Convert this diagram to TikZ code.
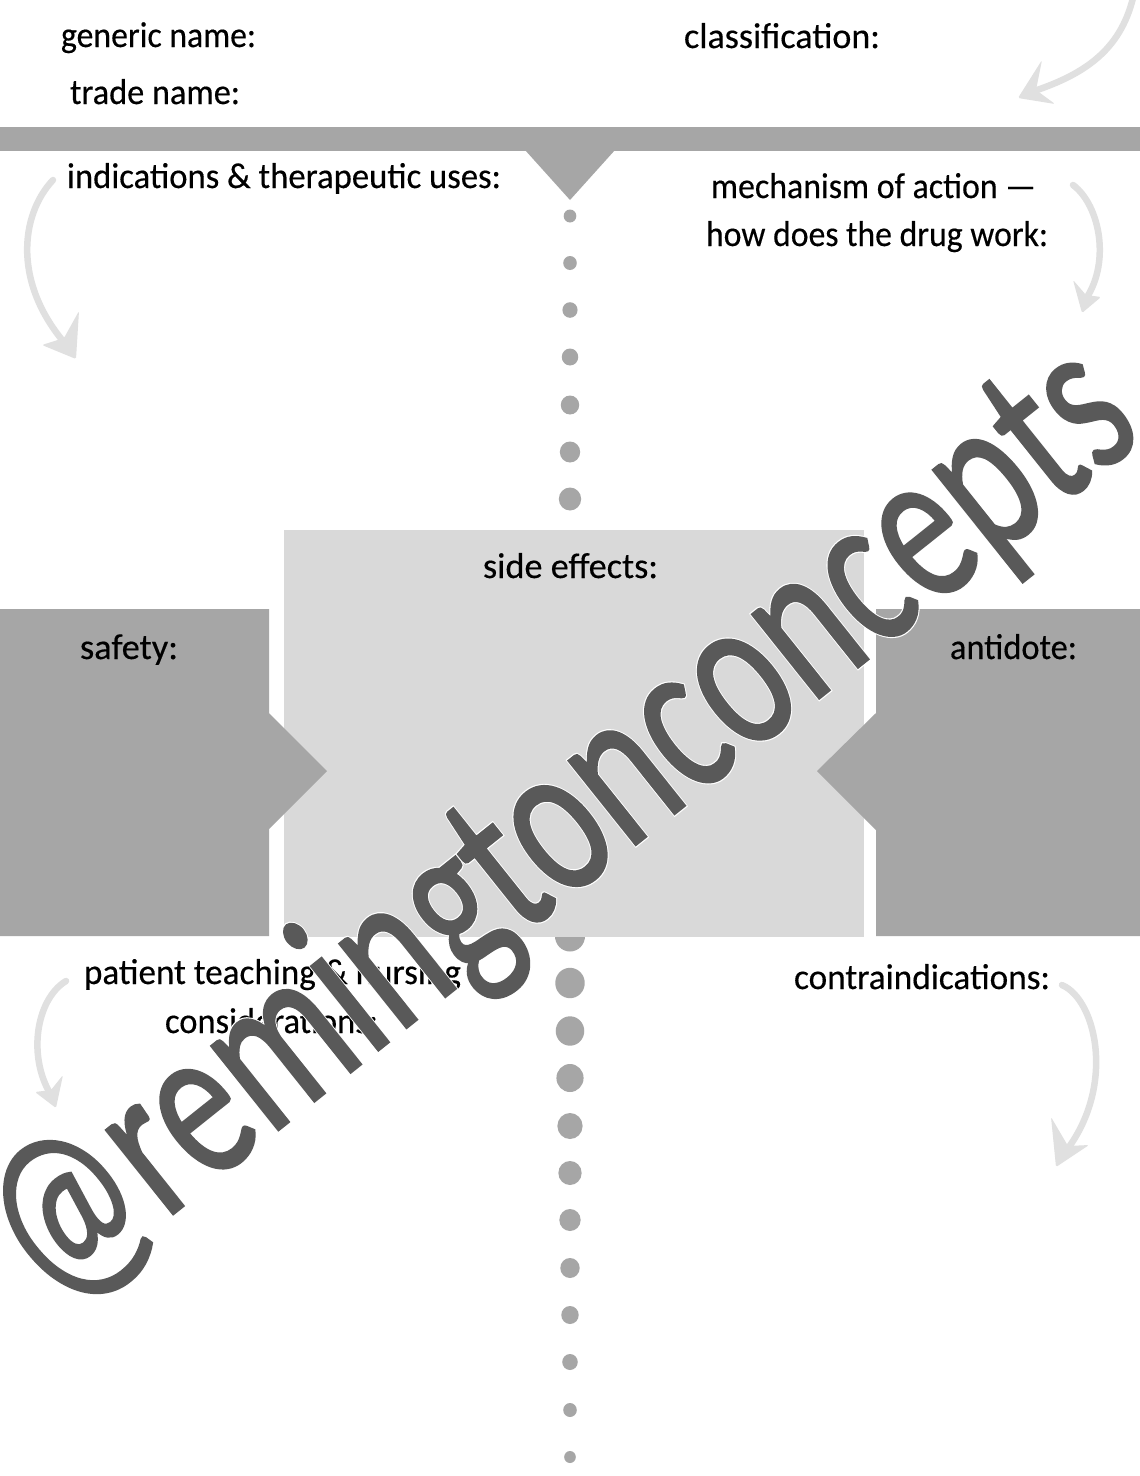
\documentclass[tikz,border=0pt]{standalone}
\usepackage{graphicx}
\usepackage{fontspec}
\setmainfont[FakeBold=0.35]{Carlito}
\newfontfamily\wmfont[FakeBold=1.1]{Carlito}
\newfontfamily\wmhalo[FakeBold=2.2]{Carlito}
\definecolor{bargrey}{HTML}{A6A6A6}
\definecolor{boxgrey}{HTML}{D9D9D9}
\definecolor{arrowgrey}{HTML}{E0E0E0}
\definecolor{markgrey}{HTML}{595959}
\newcommand{\lbl}[4]{\node[lbltext] (#1) at (#2) {\resizebox{#3pt}{\height}{#4}};}
\newcommand{\sketcharrow}[8]{%
  \draw[arrowgrey,line width=6.5pt,line cap=round] #1 .. controls #2 and #3 .. #4;
  \fill[arrowgrey,rounded corners=1.5pt] #5 -- #6 -- #7 -- #8 -- cycle;}
\tikzset{
  lbltext/.style={anchor=base west,inner sep=0pt,outer sep=0pt,text=black,font=\fontsize{36}{40}\selectfont},
  panel/.style={fill=bargrey,draw=none},
  dotmark/.style={fill=bargrey,draw=none},
}
\begin{document}
\begin{tikzpicture}[x=1pt,y=-1pt]
\useasboundingbox (0,0) rectangle (1140,1476);
\fill[white] (0,0) rectangle (1140,1476);
\begin{scope}
\clip (0,0) rectangle (1140,1476);
% top bar and pointer
\fill[panel] (0,127) rectangle (1140,151);
\fill[panel] (525,150) -- (615,150) -- (570,200) -- cycle;
% dots
\foreach \yy/\rr in {216/6.5,263/7,310/7.8,357/8.5,405/9.5,452/10.5,499/11.5,
  936/15.5,983/15.2,1031/14.7,1078/14,1126/13,1173/12,1220/11,1268/10,1315/9,1362/8,1410/7,1457/6}
  {\fill[dotmark] (570,\yy) ellipse ({\rr*0.97} and \rr);}
% side effects box
\fill[boxgrey] (284,530) rectangle (864,937);
% side panels
\fill[panel] (0,609) -- (269,609) -- (269,713) -- (327,771) -- (269,829) -- (269,936) -- (0,936) -- cycle;
\fill[panel] (1140,609) -- (876,609) -- (876,713) -- (817,771) -- (876,830) -- (876,936) -- (1140,936) -- cycle;
% arrows
\sketcharrow{(1133,-2)}{(1120,50)}{(1085,75)}{(1028,93)}{(1042,60)}{(1018,98)}{(1055,104)}{(1036,90)}
\sketcharrow{(1073,185)}{(1100,205)}{(1112,265)}{(1083,303)}{(1073,280)}{(1082,313)}{(1101,297)}{(1086,295)}
\sketcharrow{(53,180)}{(20,215)}{(12,285)}{(69,348)}{(79,311)}{(76,359)}{(42,345)}{(64,338)}
\sketcharrow{(66,981)}{(35,1000)}{(27,1060)}{(53,1098)}{(63,1075)}{(56,1108)}{(35,1092)}{(51,1090)}
\sketcharrow{(1062,985)}{(1097,1000)}{(1117,1090)}{(1062,1156)}{(1051,1117)}{(1056,1167)}{(1089,1145)}{(1068,1146)}
% labels
\lbl{generic}{61,47}{195}{generic name:}
\lbl{trade}{70,104}{170}{trade name:}
\lbl{classif}{684,48}{196}{classification:}
\lbl{indic}{67,188}{434}{indications \& therapeutic uses:}
\lbl{mech}{711,198}{325}{mechanism of action —}
\lbl{how}{706,246}{342}{how does the drug work:}
\lbl{side}{483,578}{175}{side effects:}
\lbl{safety}{80,659}{98}{safety:}
\lbl{antidote}{950,659}{127}{antidote:}
\lbl{patient}{84,984}{377}{patient teaching \& nursing}
\lbl{consid}{165,1033}{213}{considerations:}
\lbl{contra}{794,989}{256}{contraindications:}
% watermark
\node[anchor=base west,inner sep=0pt,rotate=38.6,text=white] (wmback) at (53,1310)
  {\resizebox{1400pt}{\height}{\fontsize{225}{230}\wmhalo @remingtonconcepts}};
\node[anchor=base west,inner sep=0pt,rotate=38.6,text=markgrey] (wm) at (53,1310)
  {\resizebox{1400pt}{\height}{\fontsize{225}{230}\wmfont @remingtonconcepts}};
\end{scope}
\end{tikzpicture}
\end{document}
